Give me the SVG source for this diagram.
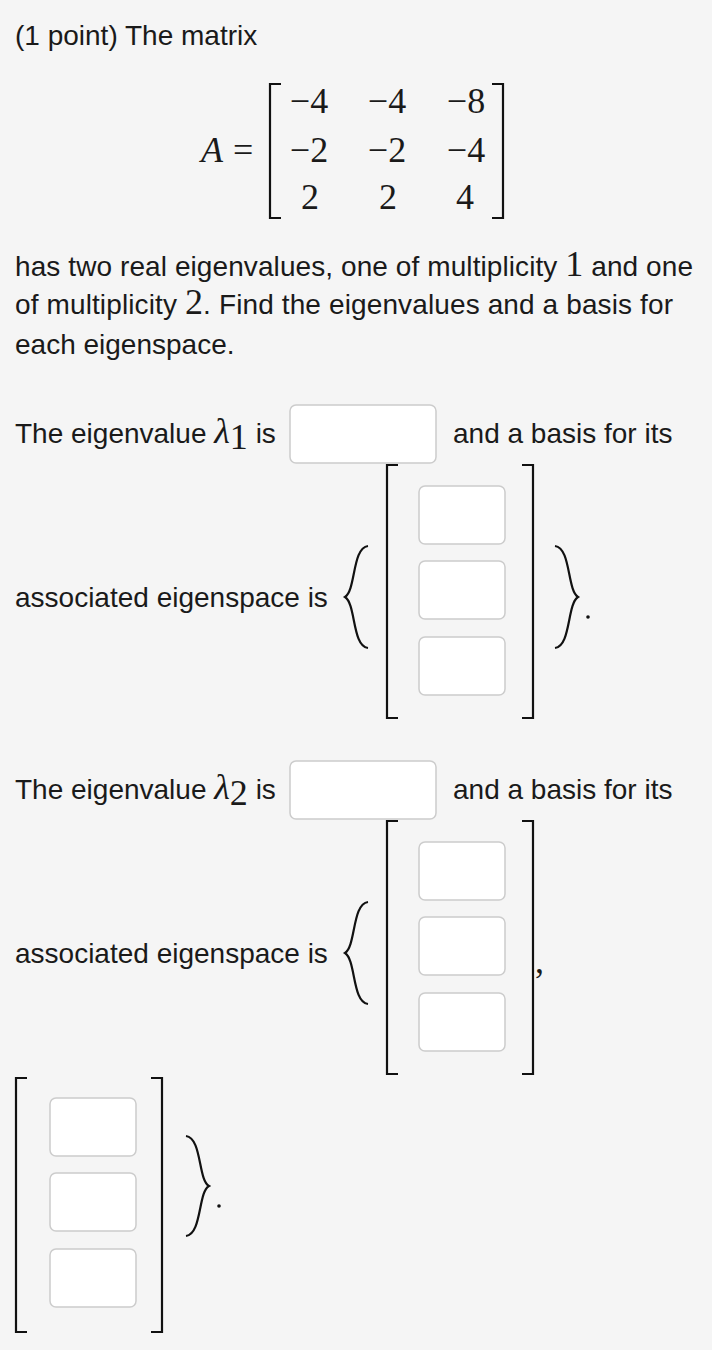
<svg xmlns="http://www.w3.org/2000/svg" width="712" height="1350" viewBox="0 0 712 1350">
<style>
.t{font-family:"Liberation Sans",Arial,sans-serif;font-size:28px;fill:#1a1a1a}
.m{font-family:"Liberation Serif","Times New Roman",serif;font-size:36px;fill:#1a1a1a}
.box{fill:#fff;stroke:#ccc;stroke-width:1.5}
.br{fill:none;stroke:#111;stroke-width:2.2}
.brace{fill:none;stroke:#111;stroke-width:2.2}
</style>
<rect width="712" height="1350" fill="#f5f5f5"/>
<text class="t" x="15" y="45" font-size="27">(1 point) The matrix</text>
<text class="m" x="201" y="162" font-style="italic">A</text>
<text class="m" x="233" y="162">=</text>
<path class="br" d="M281 84H270V218H281M492 84H503V218H492"/>
<g class="m" text-anchor="middle">
<text x="309" y="113">−4</text><text x="387" y="113">−4</text><text x="466" y="113">−8</text>
<text x="309" y="162">−2</text><text x="387" y="162">−2</text><text x="466" y="162">−4</text>
<text x="310" y="209">2</text><text x="388" y="209">2</text><text x="465" y="209">4</text>
</g>
<text class="t" x="15" y="276" textLength="678">has two real eigenvalues, one of multiplicity <tspan class="m" font-size="31">1</tspan> and one</text>
<text class="t" x="15" y="314" textLength="658">of multiplicity <tspan class="m" font-size="31">2</tspan>. Find the eigenvalues and a basis for</text>
<text class="t" x="15" y="354">each eigenspace.</text>

<g id="ev1">
<text class="t" x="15" y="443">The eigenvalue <tspan class="m" font-size="28" font-style="italic">λ</tspan><tspan class="m" font-size="18" dy="6">1</tspan><tspan dy="-6"> is</tspan></text>
<rect class="box" x="290" y="405" width="146" height="58" rx="6"/>
<text class="t" x="453" y="443">and a basis for its</text>
<text class="t" x="15" y="607">associated eigenspace is</text>
<path class="brace" d="M368 546C352 548 356 590 345 597C356 604 352 646 368 648"/>
<path class="br" d="M398 465H387V718H398M522 465H533V718H522"/>
<rect class="box" x="419" y="486" width="86" height="58" rx="6"/>
<rect class="box" x="419" y="561" width="86" height="58" rx="6"/>
<rect class="box" x="419" y="637" width="86" height="58" rx="6"/>
<path class="brace" d="M555 546C571 548 567 590 578 597C567 604 571 646 555 648"/>
<circle cx="588" cy="617" r="1.8" fill="#111"/>
</g>

<g id="ev2">
<text class="t" x="15" y="799">The eigenvalue <tspan class="m" font-size="28" font-style="italic">λ</tspan><tspan class="m" font-size="18" dy="6">2</tspan><tspan dy="-6"> is</tspan></text>
<rect class="box" x="290" y="761" width="146" height="58" rx="6"/>
<text class="t" x="453" y="799">and a basis for its</text>
<text class="t" x="15" y="963">associated eigenspace is</text>
<path class="brace" d="M368 902C352 904 356 946 345 953C356 960 352 1002 368 1004"/>
<path class="br" d="M398 821H387V1074H398M522 821H533V1074H522"/>
<rect class="box" x="419" y="842" width="86" height="58" rx="6"/>
<rect class="box" x="419" y="917" width="86" height="58" rx="6"/>
<rect class="box" x="419" y="993" width="86" height="58" rx="6"/>
<text class="m" x="535" y="973" font-size="28">,</text>
<path class="br" d="M27 1078H16V1332H27M151 1078H162V1332H151"/>
<rect class="box" x="50" y="1098" width="86" height="58" rx="6"/>
<rect class="box" x="50" y="1173" width="86" height="58" rx="6"/>
<rect class="box" x="50" y="1249" width="86" height="58" rx="6"/>
<path class="brace" d="M186 1136C202 1138 198 1180 209 1186C198 1192 202 1234 186 1236"/>
<circle cx="219" cy="1206" r="1.8" fill="#111"/>
</g>
</svg>
